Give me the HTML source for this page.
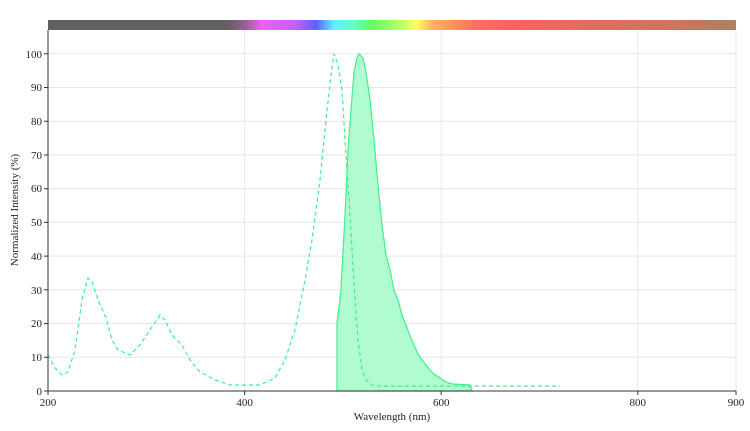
<!DOCTYPE html><html><head><style>body{margin:0;background:#fff}svg{font-family:"Liberation Serif",serif}</style></head><body>
<svg width="750" height="426" viewBox="0 0 750 426">
<defs><linearGradient id="g" x1="0" x2="1">
<stop offset="0" stop-color="#606060"/><stop offset="0.26" stop-color="#606060"/>
<stop offset="0.29" stop-color="#a060a0"/><stop offset="0.31" stop-color="#f060f0"/><stop offset="0.36" stop-color="#c060ff"/><stop offset="0.39" stop-color="#6060ff"/><stop offset="0.415" stop-color="#60f0ff"/><stop offset="0.445" stop-color="#60ffc0"/><stop offset="0.47" stop-color="#60ff60"/><stop offset="0.515" stop-color="#c0ff60"/><stop offset="0.535" stop-color="#ffff60"/><stop offset="0.56" stop-color="#ffb060"/><stop offset="0.62" stop-color="#ff7060"/><stop offset="0.67" stop-color="#ff6060"/><stop offset="0.85" stop-color="#d87060"/><stop offset="1" stop-color="#b08060"/></linearGradient></defs>
<rect x="48" y="20" width="688" height="10" fill="url(#g)"/>
<g stroke="#e6e6e6" stroke-width="1">
<line x1="48" x2="736" y1="357.3" y2="357.3"/><line x1="48" x2="736" y1="323.6" y2="323.6"/><line x1="48" x2="736" y1="289.8" y2="289.8"/><line x1="48" x2="736" y1="256.1" y2="256.1"/><line x1="48" x2="736" y1="222.4" y2="222.4"/><line x1="48" x2="736" y1="188.7" y2="188.7"/><line x1="48" x2="736" y1="155" y2="155"/><line x1="48" x2="736" y1="121.2" y2="121.2"/><line x1="48" x2="736" y1="87.5" y2="87.5"/><line x1="48" x2="736" y1="53.8" y2="53.8"/>
<line x1="244.6" x2="244.6" y1="30" y2="391"/><line x1="441.2" x2="441.2" y1="30" y2="391"/><line x1="637.8" x2="637.8" y1="30" y2="391"/><line x1="736" x2="736" y1="30" y2="391"/>
</g>
<polygon fill="#b0fcd0" stroke="#3cf08a" stroke-width="1.2" points="337,391 337,323 341,290 345,215 348,150 351,110 354,72 357,58 359,54 361,56 363,58 366,72 370,100 374,140 378,185 382,225 386,255 390,270 394,290 398,300 402,315 406,325 410,336 414,345 418,354 422,360 426,365 430,370 434,374 440,378 446,382 452,384 470,385 472,391"/>
<polyline fill="none" stroke="#3cf08a" stroke-width="1.2" stroke-dasharray="4,3" points="48,355 55,368 62,375 68,372 75,350 82,300 88,278 92,282 98,300 106,318 112,340 118,350 130,355 140,345 150,330 160,315 165,320 172,335 182,345 190,360 200,372 215,380 230,385 260,385 275,378 285,360 295,330 305,280 312,240 320,180 326,120 331,75 334,54 338,65 342,90 345,140 349,200 352,250 355,300 358,340 362,370 366,380 372,385 380,386 560,386"/>
<g stroke="#333" stroke-width="1"><line x1="48" x2="48" y1="30" y2="391"/><line x1="48" x2="736" y1="391" y2="391"/>
<path d="M44 391H48M44 357.3H48M44 323.6H48M44 289.8H48M44 256.1H48M44 222.4H48M44 188.7H48M44 155H48M44 121.2H48M44 87.5H48M44 53.8H48M48 391V395M244.6 391V395M441.2 391V395M637.8 391V395M736 391V395"/></g>
<g font-size="11" fill="#222" text-anchor="end">
<text x="42" y="395">0</text><text x="42" y="361">10</text><text x="42" y="327">20</text><text x="42" y="294">30</text><text x="42" y="260">40</text><text x="42" y="226">50</text><text x="42" y="192">60</text><text x="42" y="159">70</text><text x="42" y="125">80</text><text x="42" y="91">90</text><text x="42" y="58">100</text></g>
<g font-size="11" fill="#222" text-anchor="middle"><text x="48" y="406">200</text><text x="244.6" y="406">400</text><text x="441.2" y="406">600</text><text x="637.8" y="406">800</text><text x="736" y="406">900</text>
<text x="392" y="420">Wavelength (nm)</text>
<text transform="translate(18,210) rotate(-90)">Normalized Intensity (%)</text></g>
</svg></body></html>
